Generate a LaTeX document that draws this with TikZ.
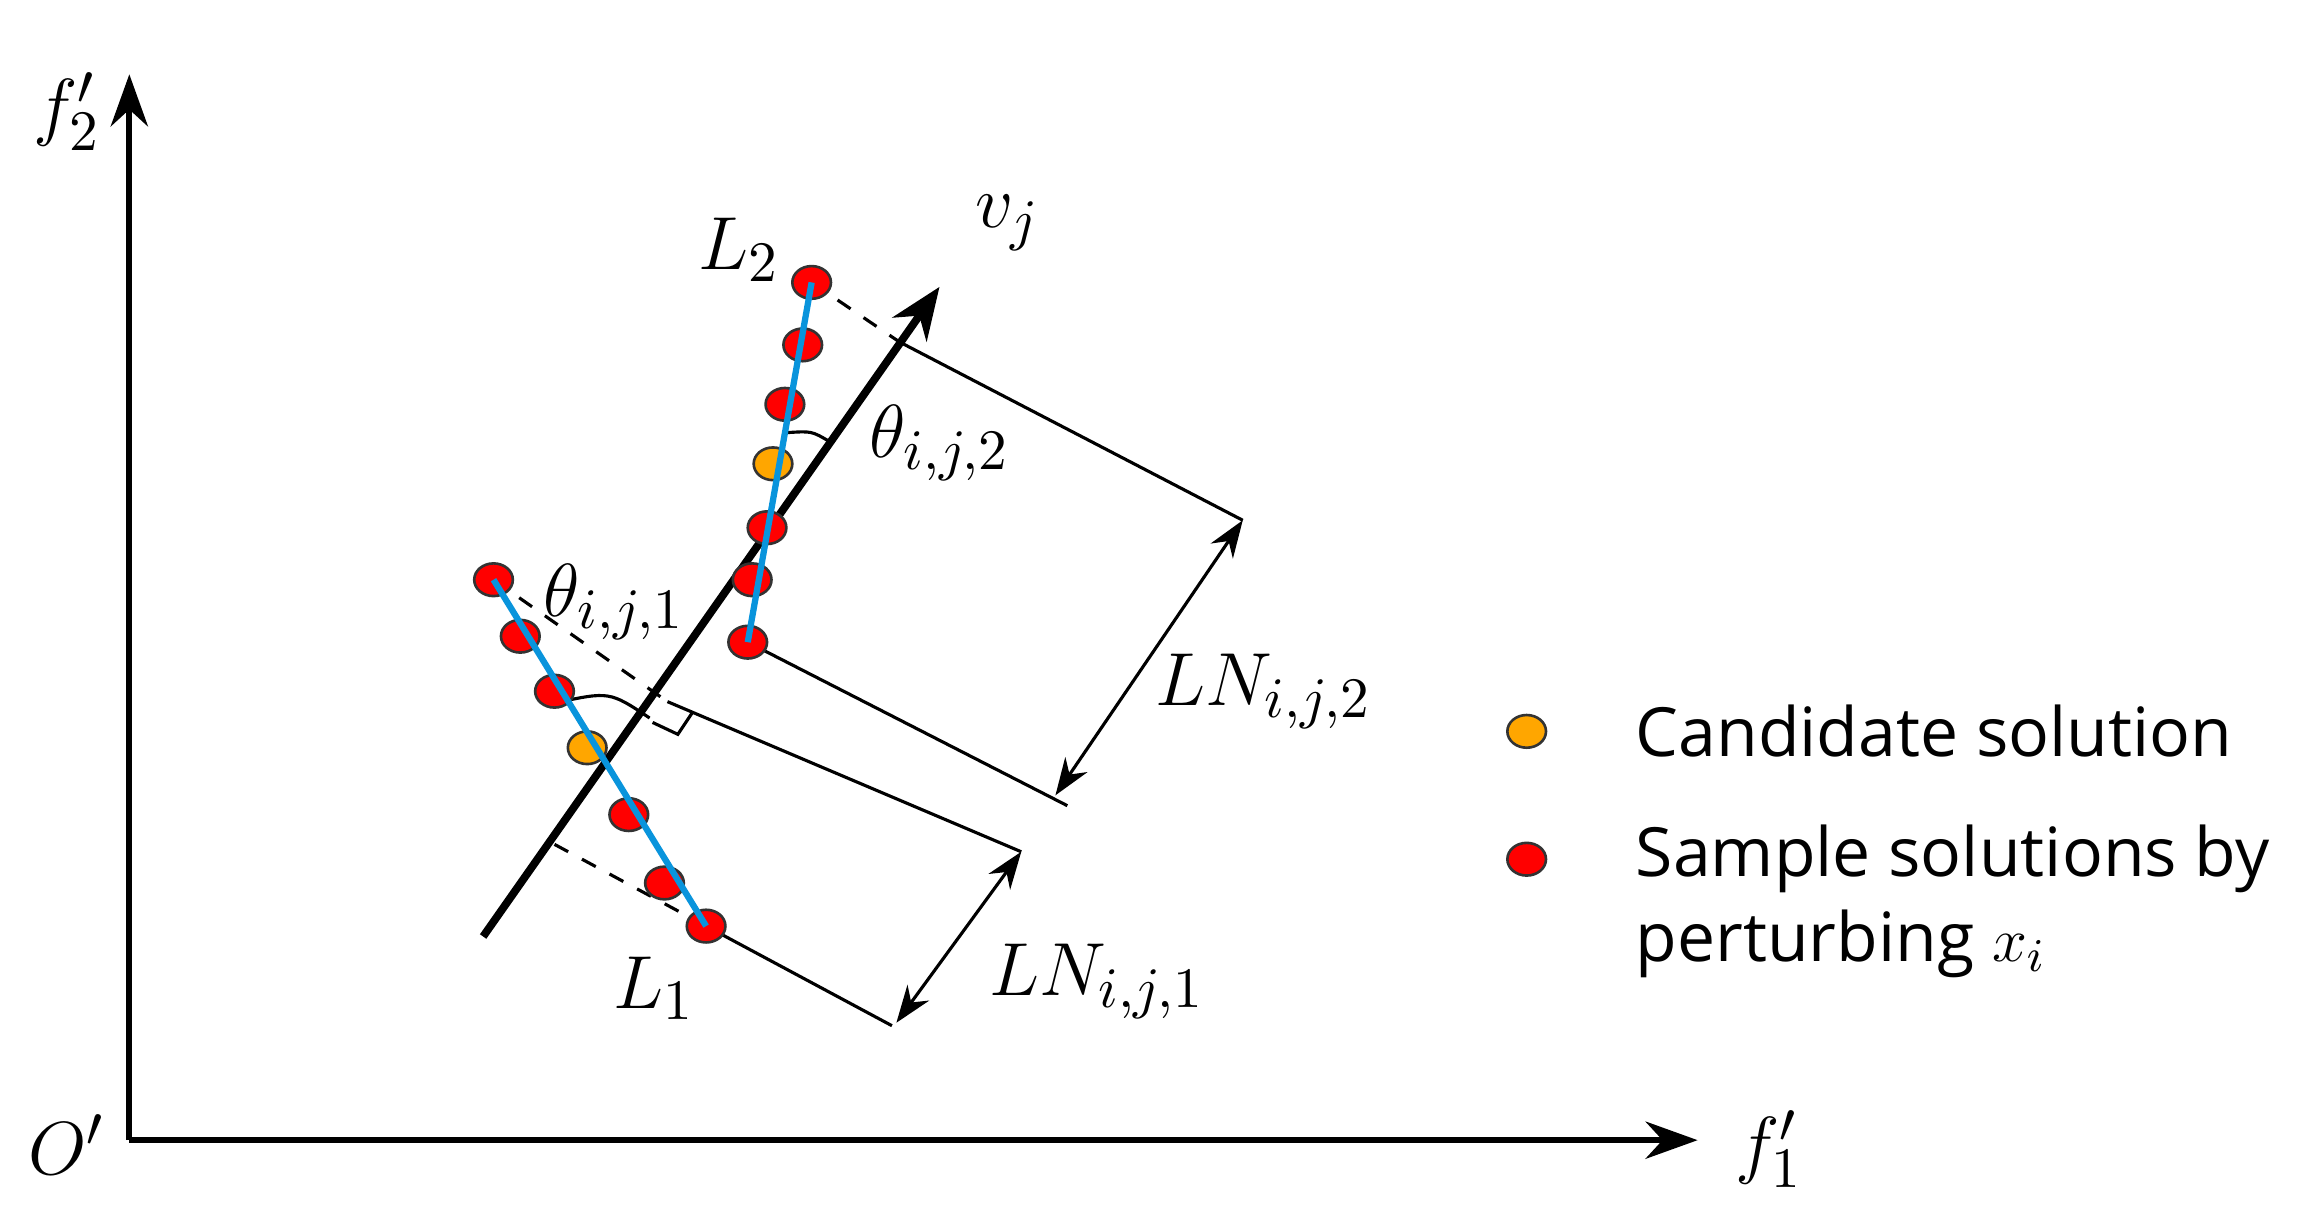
\documentclass[tikz,border=0pt]{standalone}
\usepackage{fontspec}
\newfontfamily\legfont{Open Sans}
\usetikzlibrary{arrows.meta,shapes.geometric}
\begin{document}
\begin{tikzpicture}[x=0.1mm,y=-0.1mm,
  rdot/.style={draw=black!80,fill=red,ellipse,minimum width=2.6mm,minimum height=2.2mm,inner sep=0pt,line width=0.5pt},
  ydot/.style={rdot,fill=orange!70!yellow},
  lbl/.style={font=\fontsize{15}{17}\selectfont},
  thin/.style={line width=0.6pt},
  dim/.style={line width=0.6pt,{Stealth[length=2.5mm,width=1.8mm]}-{Stealth[length=2.5mm,width=1.8mm]}},
  blue line/.style={line width=1.2pt,color=cyan!80!blue},
  legtext/.style={anchor=west,font=\legfont\fontsize{13}{16}\selectfont}]
\useasboundingbox (0,0) rectangle (1560,817);
% axes
\coordinate (O) at (87,767);
\coordinate (ytop) at (87,50);
\coordinate (xend) at (1142,767);
\draw[line width=1.2pt,-{Stealth[length=3.5mm,width=2.5mm]}] (O) -- (ytop);
\draw[line width=1.2pt,-{Stealth[length=3.5mm,width=2.5mm]}] (O) -- (xend);
\node[lbl] (f2) at (45,75) {$f_2'$};
\node[lbl] (Ol) at (45,770) {$O'$};
\node[lbl] (f1) at (1190,773) {$f_1'$};
% v_j axis
\coordinate (vs) at (325,630);
\coordinate (ve) at (632,193);
\draw[line width=1.5pt,-{Stealth[length=3.5mm,width=2.8mm]}] (vs) -- (ve);
\node[lbl] (vj) at (678,150) {$v_j$};
% feet on axis
\coordinate (p2) at (605,230);
\coordinate (p1) at (449,472);
\coordinate (p0) at (373,568);
% blue lines
\coordinate (a1) at (546,190); \coordinate (a7) at (503,432);
\coordinate (b1) at (332,390); \coordinate (b7) at (475,623);
% dashed projections
\draw[thin,dashed] (a1) -- (p2);
\draw[thin,dashed] (b1) -- (p1);
\draw[thin,dashed] (b7) -- (p0);
% right angle
\draw[thin] (439,486) -- (456,494) -- (466,479);
% extension lines
\coordinate (e2) at (836,350);
\coordinate (e2b) at (718,542);
\coordinate (e1) at (687,573);
\coordinate (e1b) at (600,690);
\draw[thin] (p2) -- (e2);
\draw[thin] (a7) -- (e2b);
\draw[thin] (p1) -- (e1);
\draw[thin] (b7) -- (e1b);
\draw[dim] (e2) -- (710,535);
\draw[dim] (e1) -- (603,688);
\node[lbl] (LN2) at (850,465) {$LN_{i,j,2}$};
\node[lbl] (LN1) at (738,660) {$LN_{i,j,1}$};
% angle arcs
\draw[thin] (530,291) .. controls (546,290) .. (558,297);
\draw[thin] (373,473) .. controls (410,465) .. (437,483);
\node[lbl] (t2) at (632,298) {$\theta_{i,j,2}$};
\node[lbl] (t1) at (413,405) {$\theta_{i,j,1}$};
% dots
\node[rdot] (d1) at (546,190) {};
\node[rdot] (d2) at (540,232) {};
\node[rdot] (d3) at (528,272) {};
\node[ydot] (d4) at (520,312) {};
\node[rdot] (d5) at (516,355) {};
\node[rdot] (d6) at (506,390) {};
\node[rdot] (d7) at (503,432) {};
\node[rdot] (c1) at (332,390) {};
\node[rdot] (c2) at (350,428) {};
\node[rdot] (c3) at (373,465) {};
\node[ydot] (c4) at (395,503) {};
\node[rdot] (c5) at (423,548) {};
\node[rdot] (c6) at (447,594) {};
\node[rdot] (c7) at (475,623) {};
\draw[blue line] (a1) -- (a7);
\draw[blue line] (b1) -- (b7);
\node[lbl] (L2) at (497,168) {$L_2$};
\node[lbl] (L1) at (440,665) {$L_1$};
% legend
\node[ydot] (ly) at (1027,492) {};
\node[rdot] (lr) at (1027,578) {};
\node[legtext] (lt1) at (1088,492) {Candidate solution};
\node[legtext] (lt2) at (1088,578) {Sample solutions by};
\node[legtext] (lt3) at (1088,635) {perturbing $x_i$};
\end{tikzpicture}
\end{document}
